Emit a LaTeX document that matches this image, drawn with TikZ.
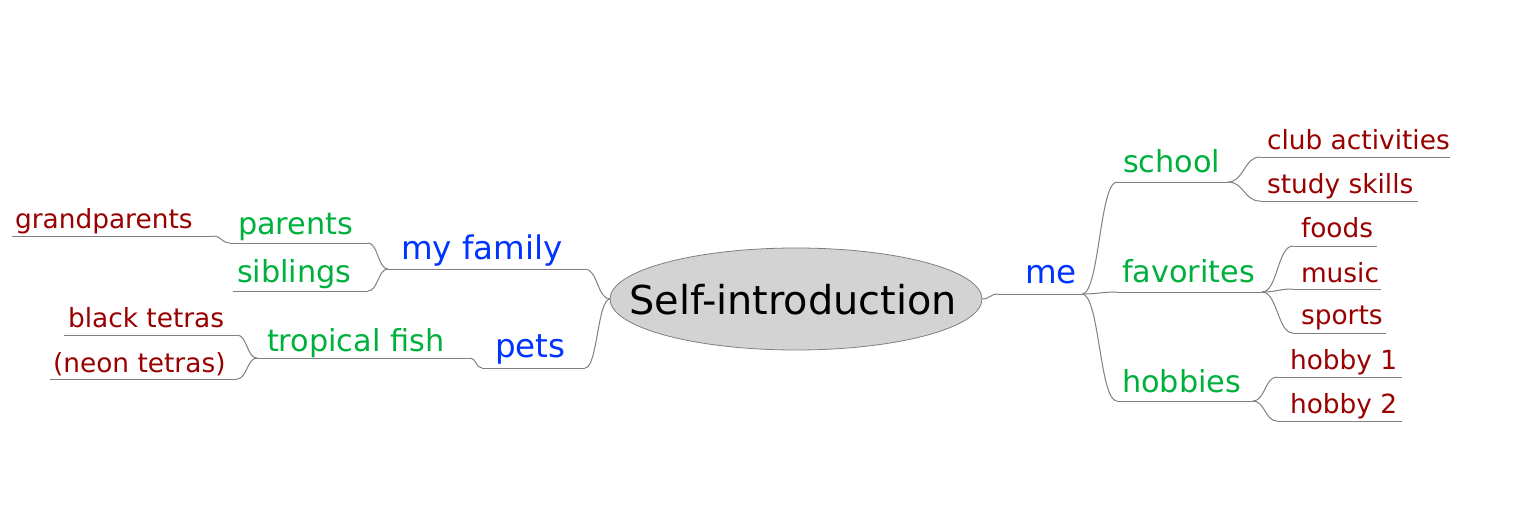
\documentclass[tikz,border=0pt]{standalone}
\usepackage{fontspec}
\setmainfont{DejaVu Sans}
\usetikzlibrary{shapes.geometric,calc}
\definecolor{tred}{HTML}{990000}
\definecolor{tgreen}{HTML}{00B03C}
\definecolor{tblue}{HTML}{0033FF}
\definecolor{lgray}{HTML}{808080}
\definecolor{ellgray}{HTML}{D3D3D3}
\begin{document}
\begin{tikzpicture}[x=1pt,y=-1pt,
 lbl/.style={anchor=base west, inner sep=0pt, outer sep=0pt},
 lvA/.style={lbl, text=tblue, font=\fontsize{32.5}{36}\selectfont},
 lvB/.style={lbl, text=tgreen, font=\fontsize{30.3}{34}\selectfont},
 lvC/.style={lbl, text=tred, font=\fontsize{26.4}{30}\selectfont},
 uline/.style={draw=lgray, line width=1pt},
 sc/.style={uline, to path={let \p1=(\tikztostart), \p2=(\tikztotarget), \n1={0.5*(\x2-\x1)} in .. controls ([xshift=\n1]\tikztostart) and ([xshift=-\n1]\tikztotarget) .. (\tikztotarget)}},
]
\useasboundingbox (0,0) rectangle (1521,527);

% root
\node[ellipse, draw=lgray, line width=0.8pt, fill=ellgray, minimum width=372pt, minimum height=102pt, inner sep=0pt, outer sep=0pt] (root) at (796,299) {};
\node[inner sep=0pt, anchor=base, font=\fontsize{39.8}{44}\selectfont] (rootT) at (793,314) {Self-introduction};

% ---------- left side ----------
\node[lvA] (fam) at (401,259) {my family};
\coordinate (famL) at (388,269); \coordinate (famR) at (585,269);
\node[lvB] (par) at (238,234) {parents};
\coordinate (parL) at (230,243); \coordinate (parR) at (368,243);
\node[lvB] (sib) at (237,282) {siblings};
\coordinate (sibL) at (233,291); \coordinate (sibR) at (368,291);
\node[lvC] (gp) at (15,228) {grandparents};
\coordinate (gpL) at (12,236); \coordinate (gpR) at (213,236);

\node[lvA] (pets) at (495,357) {pets};
\coordinate (petsL) at (482,368); \coordinate (petsR) at (585,368);
\node[lvB] (fish) at (267,351) {tropical fish};
\coordinate (fishL) at (257,358); \coordinate (fishR) at (470,358);
\node[lvC] (bt) at (68,327) {black tetras};
\coordinate (btL) at (64,335); \coordinate (btR) at (237,335);
\node[lvC] (nt) at (53,372) {(neon tetras)};
\coordinate (ntL) at (50,379); \coordinate (ntR) at (237,379);

\draw[uline] (famL) -- (famR);
\draw[uline] (parL) -- (parR);
\draw[uline] (sibL) -- (sibR);
\draw[uline] (gpL) -- (gpR);
\draw[uline] (petsL) -- (petsR);
\draw[uline] (fishL) -- (fishR);
\draw[uline] (btL) -- (btR);
\draw[uline] (ntL) -- (ntR);

\draw[sc] (famR) to (root.west);
\draw[sc] (petsR) to (root.west);
\draw[sc] (parR) to (famL);
\draw[sc] (sibR) to (famL);
\draw[sc] (gpR) to (parL);
\draw[sc] (fishR) to (petsL);
\draw[sc] (btR) to (fishL);
\draw[sc] (ntR) to (fishL);

% ---------- right side ----------
\node[lvA] (me) at (1025,283) {me};
\coordinate (meL) at (998,294); \coordinate (meR) at (1082,294);
\node[lvB] (sch) at (1123,172) {school};
\coordinate (schL) at (1117,182); \coordinate (schR) at (1228,182);
\node[lvC] (club) at (1267,149) {club activities};
\coordinate (clubL) at (1260,157); \coordinate (clubR) at (1450,157);
\node[lvC] (study) at (1267,193) {study skills};
\coordinate (studyL) at (1260,201); \coordinate (studyR) at (1418,201);

\node[lvB] (fav) at (1122,282) {favorites};
\coordinate (favL) at (1117,292); \coordinate (favR) at (1262,292);
\node[lvC] (food) at (1301,237) {foods};
\coordinate (foodL) at (1293,246); \coordinate (foodR) at (1377,246);
\node[lvC] (mus) at (1301,282) {music};
\coordinate (musL) at (1293,289); \coordinate (musR) at (1381,289);
\node[lvC] (spo) at (1301,324) {sports};
\coordinate (spoL) at (1293,333); \coordinate (spoR) at (1386,333);

\node[lvB] (hob) at (1122,392) {hobbies};
\coordinate (hobL) at (1117,401); \coordinate (hobR) at (1253,401);
\node[lvC] (hA) at (1290,369) {hobby 1};
\coordinate (hAL) at (1277,377); \coordinate (hAR) at (1402,377);
\node[lvC] (hB) at (1290,413) {hobby 2};
\coordinate (hBL) at (1277,421); \coordinate (hBR) at (1402,421);

\draw[uline] (meL) -- (meR);
\draw[uline] (schL) -- (schR);
\draw[uline] (clubL) -- (clubR);
\draw[uline] (studyL) -- (studyR);
\draw[uline] (favL) -- (favR);
\draw[uline] (foodL) -- (foodR);
\draw[uline] (musL) -- (musR);
\draw[uline] (spoL) -- (spoR);
\draw[uline] (hobL) -- (hobR);
\draw[uline] (hAL) -- (hAR);
\draw[uline] (hBL) -- (hBR);

\draw[sc] (root.east) to (meL);
\draw[sc] (meR) to (schL);
\draw[sc] (meR) to (favL);
\draw[sc] (meR) to (hobL);
\draw[sc] (schR) to (clubL);
\draw[sc] (schR) to (studyL);
\draw[sc] (favR) to (foodL);
\draw[sc] (favR) to (musL);
\draw[sc] (favR) to (spoL);
\draw[sc] (hobR) to (hAL);
\draw[sc] (hobR) to (hBL);
\end{tikzpicture}
\end{document}
